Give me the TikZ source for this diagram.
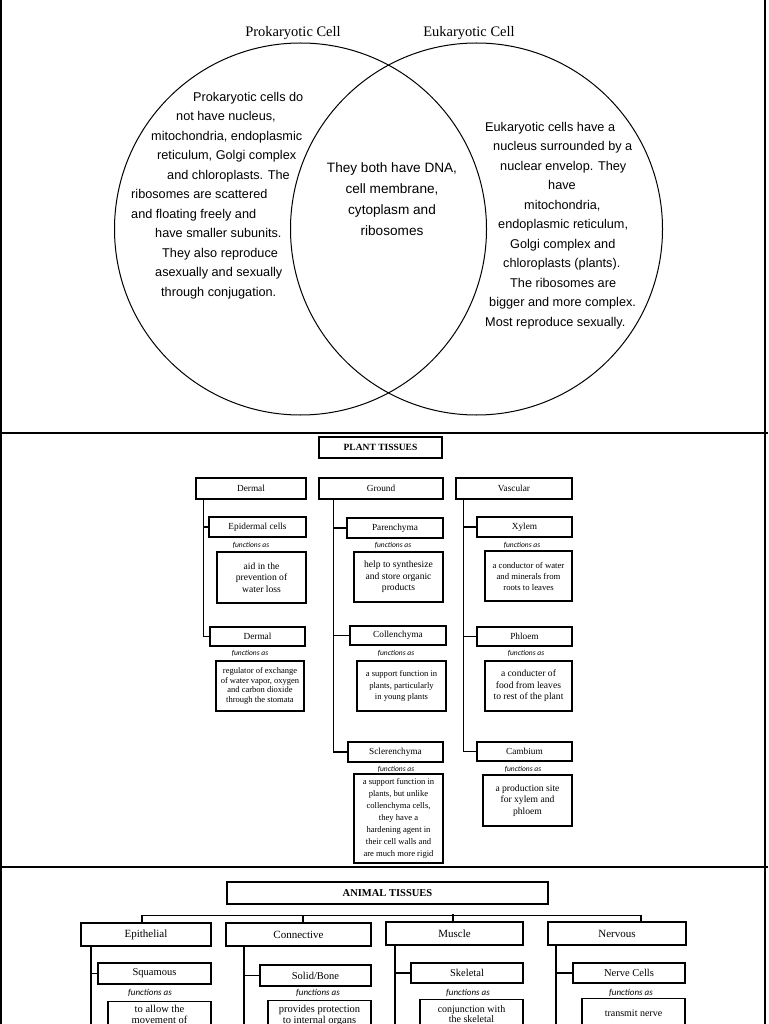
\documentclass[tikz,border=0pt]{standalone}
\usepackage{fontspec}
\setmainfont{Liberation Serif}
\newfontfamily\vennfont{Liberation Sans}
\newfontfamily\notefont{Carlito}

\begin{document}
\begin{tikzpicture}[x=1pt, y=-1pt,
    venntext/.style={inner sep=0pt, font=\vennfont\fontsize{12.7}{19.5}\selectfont},
    cellhead/.style={inner sep=0pt, font=\fontsize{14.5}{16}\selectfont},
    cellring/.style={draw, circle, line width=1pt, minimum size=372pt, inner sep=0pt},
    headbox/.style={draw, line width=1.1pt, inner sep=0pt, font=\bfseries\fontsize{9.5}{11}\selectfont},
    tissue/.style={draw, line width=1.1pt, inner sep=0pt, font=\fontsize{9.3}{11}\selectfont},
    funcbox/.style={draw, line width=1.1pt, inner sep=0pt, align=center, font=\fontsize{9.6}{11.5}\selectfont},
    funcnote/.style={inner sep=0pt, font=\notefont\itshape\fontsize{7.5}{9}\selectfont},
    branch/.style={line width=1.8pt},
    frame/.style={line width=2.5pt}]
    \useasboundingbox (0,0) rectangle (768,1024);
    \clip (0,0) rectangle (768,1024);

    % Panel frame
    \draw[line width=1.5pt] (1,0) -- (1,1024);
    \draw[line width=1.5pt] (765,0) -- (765,1024);
    \draw[frame] (0,433) -- (768,433);
    \draw[frame] (0,867) -- (768,867);

    % Venn diagram
    \node[cellring] (prokring) at (300.5,229) {};
    \node[cellring] (eukring) at (476.5,229) {};
    \node[cellhead] (prokhead) at (293,33) {Prokaryotic Cell};
    \node[cellhead] (eukhead) at (469,33) {Eukaryotic Cell};

    \node[venntext, align=left, anchor=north west] (proktext) at (131,92) {%
        \hspace*{62pt}Prokaryotic cells do\\
        \hspace*{45pt}not have nucleus,\\
        \hspace*{20pt}mitochondria, endoplasmic\\
        \hspace*{26pt}reticulum, Golgi complex\\
        \hspace*{36pt}and chloroplasts. The\\
        ribosomes are scattered\\
        and floating freely and\\
        \hspace*{24pt}have smaller subunits.\\
        \hspace*{31pt}They also reproduce\\
        \hspace*{24pt}asexually and sexually\\
        \hspace*{30pt}through conjugation.};
    \node[venntext, align=center, font=\vennfont\fontsize{13.6}{21}\selectfont] (bothtext) at (392,199) {%
        They both have DNA,\\cell membrane,\\cytoplasm and\\ribosomes};
    \node[venntext, align=left, anchor=north west] (euktext) at (485,122) {%
        Eukaryotic cells have a\\
        \hspace*{8pt}nucleus surrounded by a\\
        \hspace*{15pt}nuclear envelop. They\\
        \hspace*{63pt}have\\
        \hspace*{39pt}mitochondria,\\
        \hspace*{13pt}endoplasmic reticulum,\\
        \hspace*{25pt}Golgi complex and\\
        \hspace*{18pt}chloroplasts (plants).\\
        \hspace*{25pt}The ribosomes are\\
        \hspace*{4pt}bigger and more complex.\\
        Most reproduce sexually.};

    % Plant tissues
    \node[headbox, minimum width=123pt, minimum height=21pt] (planttitle) at (380.5,447.5) {PLANT TISSUES};
    \node[tissue, minimum width=110pt, minimum height=21pt] (dermal) at (251,488.5) {Dermal};
    \node[tissue, minimum width=124pt, minimum height=21pt] (ground) at (381,488.5) {Ground};
    \node[tissue, minimum width=116pt, minimum height=21pt] (vascular) at (514,488.5) {Vascular};

    % Dermal column
    \node[tissue, minimum width=97pt, minimum height=20pt] (epid) at (257.5,527) {Epidermal cells};
    \node[funcnote] (epidnote) at (251,545) {functions as};
    \node[funcbox, minimum width=89pt, minimum height=51pt] (aidbox) at (261.5,577.5) {aid in the\\prevention of\\water loss};
    \node[tissue, minimum width=95pt, minimum height=19pt] (dermalb) at (257.5,636.5) {Dermal};
    \node[funcnote] (dermalnote) at (250,653) {functions as};
    \node[funcbox, minimum width=88pt, minimum height=50pt, font=\fontsize{8.5}{9.8}\selectfont] (regbox) at (260,686) {regulator of exchange\\of water vapor, oxygen\\and carbon dioxide\\through the stomata};

    % Ground column
    \node[tissue, minimum width=96pt, minimum height=20pt] (paren) at (395,528) {Parenchyma};
    \node[funcnote] (parennote) at (393,545) {functions as};
    \node[funcbox, minimum width=89pt, minimum height=50pt] (helpbox) at (398.5,577) {help to synthesize\\and store organic\\products};
    \node[tissue, minimum width=96pt, minimum height=19pt] (collen) at (398,635.5) {Collenchyma};
    \node[funcnote] (collennote) at (396,653) {functions as};
    \node[funcbox, minimum width=89pt, minimum height=50pt, font=\fontsize{8.6}{11.5}\selectfont] (suppbox) at (401.5,686) {a support function in\\plants, particularly\\in young plants};
    \node[tissue, minimum width=95pt, minimum height=20pt] (scler) at (395.5,752) {Sclerenchyma};
    \node[funcnote] (sclernote) at (396,769) {functions as};
    \node[funcbox, minimum width=89pt, minimum height=89pt, font=\fontsize{8.6}{12}\selectfont] (sclerbox) at (398.5,818.5) {a support function in\\plants, but unlike\\collenchyma cells,\\they have a\\hardening agent in\\their cell walls and\\are much more rigid};

    % Vascular column
    \node[tissue, minimum width=95pt, minimum height=20pt] (xylem) at (524.5,527) {Xylem};
    \node[funcnote] (xylemnote) at (522,545) {functions as};
    \node[funcbox, minimum width=87pt, minimum height=50pt, font=\fontsize{8.7}{11}\selectfont] (xylembox) at (528.5,576) {a conductor of water\\and minerals from\\roots to leaves};
    \node[tissue, minimum width=95pt, minimum height=19pt] (phloem) at (524.5,636.5) {Phloem};
    \node[funcnote] (phloemnote) at (526,653) {functions as};
    \node[funcbox, minimum width=87pt, minimum height=50pt] (phloembox) at (528.5,686) {a conducter of\\food from leaves\\to rest of the plant};
    \node[tissue, minimum width=95pt, minimum height=19pt] (cambium) at (524.5,751.5) {Cambium};
    \node[funcnote] (cambiumnote) at (523,769) {functions as};
    \node[funcbox, minimum width=89pt, minimum height=51pt] (cambiumbox) at (527.5,800.5) {a production site\\for xylem and\\phloem};

    % Plant branches
    \coordinate (dermalline) at ([xshift=8pt]dermal.south west);
    \coordinate (groundline) at ([xshift=15pt]ground.south west);
    \coordinate (vascline) at ([xshift=8pt]vascular.south west);
    \draw[branch] (dermalline) |- (dermalb.west);
    \draw[branch] (epid.west) -- (epid.west -| dermalline);
    \draw[branch] (groundline) |- (scler.west);
    \draw[branch] (paren.west) -- (paren.west -| groundline);
    \draw[branch] (collen.west) -- (collen.west -| groundline);
    \draw[branch] (vascline) |- (cambium.west);
    \draw[branch] (xylem.west) -- (xylem.west -| vascline);
    \draw[branch] (phloem.west) -- (phloem.west -| vascline);

    % Animal tissues
    \node[headbox, minimum width=321pt, minimum height=22pt, font=\bfseries\fontsize{10.5}{12}\selectfont] (animaltitle) at (387.5,893) {ANIMAL TISSUES};
    \node[tissue, minimum width=130pt, minimum height=23pt, font=\fontsize{11}{13}\selectfont] (epith) at (146,934.5) {Epithelial};
    \node[tissue, minimum width=145pt, minimum height=23pt, font=\fontsize{11}{13}\selectfont] (connect) at (298.5,934.5) {Connective};
    \node[tissue, minimum width=137pt, minimum height=23pt, font=\fontsize{11}{13}\selectfont] (muscle) at (454.5,933.5) {Muscle};
    \node[tissue, minimum width=138pt, minimum height=23pt, font=\fontsize{11}{13}\selectfont] (nervous) at (617,933.5) {Nervous};

    \draw[branch] ([xshift=-4pt]epith.north) -- ++(0,-7) -| ([xshift=24pt]nervous.north);
    \draw[branch] ([xshift=4.5pt]connect.north) -- ++(0,-7);
    \draw[branch] ([xshift=-1.5pt]muscle.north) -- ++(0,-7);

    \node[tissue, minimum width=113pt, minimum height=21pt, font=\fontsize{10.5}{12}\selectfont] (squam) at (154.5,973.5) {Squamous};
    \node[tissue, minimum width=111pt, minimum height=21pt, font=\fontsize{10.5}{12}\selectfont] (solid) at (315.5,975.5) {Solid/Bone};
    \node[tissue, minimum width=112pt, minimum height=20pt, font=\fontsize{10.5}{12}\selectfont] (skel) at (467,973) {Skeletal};
    \node[tissue, minimum width=112pt, minimum height=20pt, font=\fontsize{10.5}{12}\selectfont] (nerve) at (629,973) {Nerve Cells};

    \node[funcnote, font=\notefont\itshape\fontsize{9}{10}\selectfont] (squamnote) at (150,993) {functions as};
    \node[funcnote, font=\notefont\itshape\fontsize{9}{10}\selectfont] (solidnote) at (318,993) {functions as};
    \node[funcnote, font=\notefont\itshape\fontsize{9}{10}\selectfont] (skelnote) at (468,993) {functions as};
    \node[funcnote, font=\notefont\itshape\fontsize{9}{10}\selectfont] (nervenote) at (631,993) {functions as};

    \node[funcbox, minimum width=103pt, minimum height=60pt, anchor=north] (squambox) at (159.5,1001) {};
    \node[funcbox, minimum width=103pt, minimum height=60pt, anchor=north] (solidbox) at (319.5,1000) {};
    \node[funcbox, minimum width=103pt, minimum height=60pt, anchor=north] (skelbox) at (471.5,999) {};
    \node[funcbox, minimum width=103pt, minimum height=60pt, anchor=north] (nervebox) at (633.5,998) {};
    \node[funcbox, draw=none, anchor=north, font=\fontsize{10.5}{11}\selectfont] (squamtext) at ([yshift=-4pt]squambox.north) {to allow the\\movement of};
    \node[funcbox, draw=none, anchor=north, font=\fontsize{10.5}{11}\selectfont] (solidtext) at ([yshift=-5pt]solidbox.north) {provides protection\\to internal organs};
    \node[funcbox, draw=none, anchor=north, font=\fontsize{10}{10}\selectfont] (skeltext) at ([yshift=-6pt]skelbox.north) {conjunction with\\the skeletal};
    \node[funcbox, draw=none, anchor=north, font=\fontsize{10}{11}\selectfont] (nervetext) at ([yshift=-11pt]nervebox.north) {transmit nerve};

    % Animal branches
    \coordinate (epithend) at (91,1030);
    \coordinate (connectend) at (244,1030);
    \coordinate (muscleend) at (395,1030);
    \coordinate (nervousend) at (556,1030);
    \draw[branch] (epith.south west -| epithend) -- (epithend);
    \draw[branch] (connect.south west -| connectend) -- (connectend);
    \draw[branch] (muscle.south west -| muscleend) -- (muscleend);
    \draw[branch] (nervous.south west -| nervousend) -- (nervousend);
    \draw[branch] (squam.west) -- (squam.west -| epithend);
    \draw[branch] (solid.west) -- (solid.west -| connectend);
    \draw[branch] (skel.west) -- (skel.west -| muscleend);
    \draw[branch] (nerve.west) -- (nerve.west -| nervousend);
\end{tikzpicture}
\end{document}
